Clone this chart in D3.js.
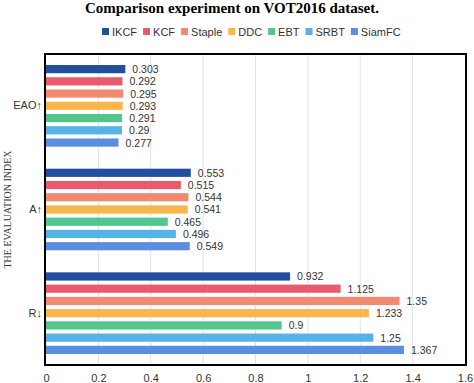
<!DOCTYPE html>
<html>
<head>
<meta charset="utf-8">
<script src="https://cdn.jsdelivr.net/npm/d3@7"></script>
<style>
  body { margin: 0; background: #fff; }
</style>
</head>
<body>
<svg id="chart"></svg>
<script>
// chart data
var categories = ["EAO↑", "A↑", "R↓"];
var series = ["IKCF", "KCF", "Staple", "DDC", "EBT", "SRBT", "SiamFC"];
var colors = ["#1f4f9e", "#ea5a6f", "#f28a72", "#fbb54f", "#52c68c", "#55b3e6", "#5a8ee0"];
var values = {
  "EAO↑": [0.303, 0.292, 0.295, 0.293, 0.291, 0.29, 0.277],
  "A↑":   [0.553, 0.515, 0.544, 0.541, 0.465, 0.496, 0.549],
  "R↓":   [0.932, 1.125, 1.35, 1.233, 0.9, 1.25, 1.367]
};
var labels = {
  "EAO↑": ["0.303", "0.292", "0.295", "0.293", "0.291", "0.29", "0.277"],
  "A↑":   ["0.553", "0.515", "0.544", "0.541", "0.465", "0.496", "0.549"],
  "R↓":   ["0.932", "1.125", "1.35", "1.233", "0.9", "1.25", "1.367"]
};
var xTicks = [0, 0.2, 0.4, 0.6, 0.8, 1, 1.2, 1.4, 1.6];

var width = 474, height = 383;
var plot = {left: 45, right: 466, top: 54, bottom: 365};

var svg = d3.select("#chart")
  .attr("width", width)
  .attr("height", height);

// title
svg.append("text")
  .attr("x", 232)
  .attr("y", 13)
  .attr("text-anchor", "middle")
  .style("font-family", "'Liberation Serif', 'Times New Roman', serif")
  .style("font-weight", "bold")
  .style("font-size", "15px")
  .text("Comparison experiment on VOT2016 dataset.");

// legend
var legend = svg.append("g").attr("transform", "translate(102,32)");
var lx = 0;
series.forEach(function(s, i) {
  var g = legend.append("g").attr("transform", "translate(" + lx + ",0)");
  g.append("rect")
    .attr("x", 0).attr("y", -4)
    .attr("width", 7).attr("height", 7)
    .attr("fill", colors[i]);
  var t = g.append("text")
    .attr("x", 10).attr("y", 3.5)
    .style("font-family", "'Liberation Sans', Arial, sans-serif")
    .style("font-size", "11px")
    .style("fill", "#333")
    .text(s);
  lx += 10 + t.node().getComputedTextLength() + 6;
});

// scales
var x = d3.scaleLinear()
  .domain([0, 1.6])
  .range([plot.left + 1, plot.right - 1]);

var y = d3.scaleBand()
  .domain(categories)
  .range([plot.top, plot.bottom])
  .paddingInner(0)
  .paddingOuter(0);

var ySub = d3.scaleBand()
  .domain(series)
  .range([0, y.bandwidth()])
  .paddingInner(0.33)
  .paddingOuter(0.9);

// gridlines
svg.append("g")
  .selectAll("line")
  .data(xTicks.slice(1, -1))
  .enter()
  .append("line")
  .attr("x1", function(d) { return x(d); })
  .attr("x2", function(d) { return x(d); })
  .attr("y1", plot.top)
  .attr("y2", plot.bottom)
  .attr("stroke", "#e2e2e2")
  .attr("stroke-width", 1);

// bars
var groups = svg.append("g")
  .selectAll("g")
  .data(categories)
  .enter()
  .append("g")
  .attr("transform", function(c) { return "translate(0," + y(c) + ")"; });

function rows(c) {
  return series.map(function(s, i) { return {s: s, i: i, v: values[c][i], l: labels[c][i]}; });
}

groups.selectAll("rect")
  .data(rows)
  .enter()
  .append("rect")
  .attr("x", x(0))
  .attr("y", function(d) { return ySub(d.s); })
  .attr("width", function(d) { return x(d.v) - x(0); })
  .attr("height", ySub.bandwidth())
  .attr("fill", function(d) { return colors[d.i]; });

groups.selectAll("text")
  .data(rows)
  .enter()
  .append("text")
  .attr("x", function(d) { return x(d.v) + 7; })
  .attr("y", function(d) { return ySub(d.s) + ySub.bandwidth() / 2 + 4; })
  .style("font-family", "'Liberation Sans', Arial, sans-serif")
  .style("font-size", "10.5px")
  .style("fill", "#333")
  .text(function(d) { return d.l; });

// frame
svg.append("rect")
  .attr("x", plot.left)
  .attr("y", plot.top)
  .attr("width", plot.right - plot.left)
  .attr("height", plot.bottom - plot.top)
  .attr("fill", "none")
  .attr("stroke", "#000")
  .attr("stroke-width", 2);

// x axis
var xAxis = svg.append("g")
  .attr("transform", "translate(0," + plot.bottom + ")")
  .call(d3.axisBottom(x).tickValues(xTicks).tickSize(0).tickPadding(9)
    .tickFormat(function(d) { return String(d); }));
xAxis.select(".domain").remove();
xAxis.selectAll("text")
  .style("font-family", "'Liberation Sans', Arial, sans-serif")
  .style("font-size", "11px")
  .style("fill", "#333");

// y axis
var yAxis = svg.append("g")
  .attr("transform", "translate(" + plot.left + ",0)")
  .call(d3.axisLeft(y).tickSize(0).tickPadding(3));
yAxis.select(".domain").remove();
yAxis.selectAll("text")
  .style("font-family", "'Liberation Sans', Arial, sans-serif")
  .style("font-size", "11px")
  .style("fill", "#333");

// y axis title
svg.append("text")
  .attr("transform", "translate(11," + ((plot.top + plot.bottom) / 2) + ")rotate(-90)")
  .attr("text-anchor", "middle")
  .style("font-family", "'Liberation Serif', 'Times New Roman', serif")
  .style("font-size", "10px")
  .style("fill", "#333")
  .text("THE EVALUATION INDEX");
</script>
</body>
</html>
